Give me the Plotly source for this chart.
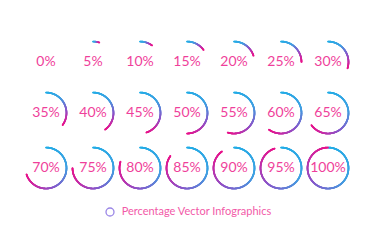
import numpy as np
import plotly.graph_objects as go

percents = [0, 5, 10, 15, 20, 25, 30,
            35, 40, 45, 50, 55, 60, 65,
            70, 75, 80, 85, 90, 95, 100]
labels = [f"{p}%" for p in percents]
col_x = [46, 93, 140, 187, 234, 281, 328]
row_y = [62, 113, 168]
legend_name = "Percentage Vector Infographics"

R = 20.5
BLUE, PURPLE, MAGENTA = "#22ade6", "#8a55c9", "#e8128a"
TEXT = "#ef3f9b"

fig = go.Figure()
for i, p in enumerate(percents):
    cx = col_x[i % 7]
    cy = row_y[i // 7]
    if p > 0:
        n = max(int(450 * p / 100), 6)
        f = np.linspace(0, 1, n)
        theta = f * 2 * np.pi * p / 100
        xs = cx + R * np.sin(theta)
        ys = cy - R * np.cos(theta)
        fig.add_trace(go.Scatter(
            x=xs, y=ys, mode="markers", showlegend=False, hoverinfo="skip",
            marker=dict(size=1.7, color=f, cmin=0, cmax=1,
                        colorscale=[[0, BLUE], [0.35, "#3fa0e2"], [0.65, PURPLE],
                                    [0.85, "#c82aa5"], [1, MAGENTA]],
                        line=dict(width=0))))
    fig.add_trace(go.Scatter(
        x=[cx], y=[cy], mode="text", text=[labels[i]], showlegend=False,
        hoverinfo="skip",
        textfont=dict(family="Lato", size=14, color=TEXT)))

# legend-like caption
fig.add_trace(go.Scatter(
    x=[110], y=[212], mode="markers+text", text=["  " + legend_name],
    textposition="middle right", showlegend=False, hoverinfo="skip",
    textfont=dict(family="Lato", size=11, color="#f25aa8"),
    marker=dict(symbol="circle-open", size=8, color="#9a86e6",
                line=dict(width=1.3))))

fig.update_layout(
    width=375, height=250, margin=dict(l=0, r=0, t=0, b=0),
    paper_bgcolor="white", plot_bgcolor="white",
    xaxis=dict(range=[0, 375], visible=False, fixedrange=True),
    yaxis=dict(range=[250, 0], visible=False, fixedrange=True),
    showlegend=False,
)
fig.write_html("out.html")
